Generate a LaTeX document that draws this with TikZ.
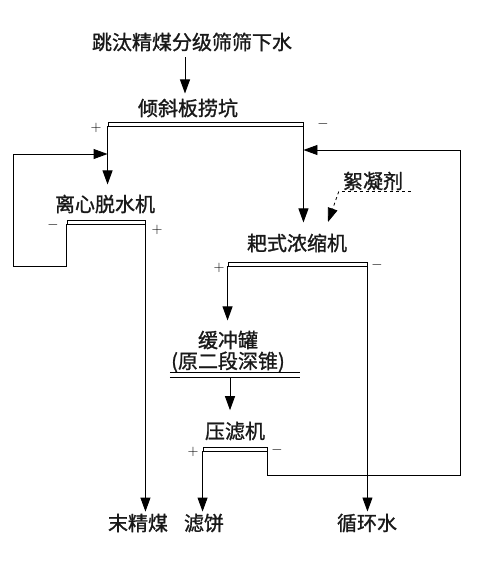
\documentclass[tikz,border=0pt]{standalone}
\usepackage{fontspec}
\newfontfamily\cjk[FakeBold=1.2]{Noto Sans CJK SC}
\usepackage{tikz}
\usetikzlibrary{positioning, arrows.meta, calc}

\begin{document}
\begin{tikzpicture}[
    x=1pt, y=-1pt,
    font=\cjk\fontsize{20}{24}\selectfont,
    >={Triangle[length=14pt, width=10pt]},
    lbl/.style={inner sep=2pt, text=black!90},
    bar/.style={draw, line width=0.9pt, minimum height=4pt, inner sep=0pt, minimum width=#1},
    sgn/.style={font=\normalfont\fontsize{15}{17}\selectfont, inner sep=0pt},
    flow/.style={->, line width=0.9pt}
  ]
    \useasboundingbox (0,0) rectangle (477,562);
    % feed and labels
    \node[lbl] (feed) at (192,42) {跳汰精煤分级筛筛下水};
    \node[lbl] (pitlbl) at (188,108) {倾斜板捞坑};
    \node[lbl] (cenlbl) at (105,204) {离心脱水机};
    \node[lbl] (thklbl) at (297,243) {耙式浓缩机};
    \node[lbl] (tanklbl) at (228,340) {缓冲罐};
    \node[lbl] (tanklbl2) at (228,362) {(原二段深锥)};
    \node[lbl] (presslbl) at (235,431) {压滤机};
    \node[lbl, inner sep=1pt] (flocc) at (373,181) {絮凝剂};
    \node[lbl] (coal) at (138,523) {末精煤};
    \node[lbl] (cake) at (204,523) {滤饼};
    \node[lbl] (water) at (367,523) {循环水};
    % bars
    \node[bar=195pt] (pit) at (205.5,124) {};
    \node[bar=78pt] (cen) at (106,222) {};
    \node[bar=139pt] (thk) at (297.5,264) {};
    \node[bar=64pt] (press) at (235,449) {};
    \node[minimum width=130pt, minimum height=4pt, inner sep=0pt] (tank) at (235,375) {};
    \draw[line width=0.9pt] (tank.north west) -- (tank.north east) (tank.south west) -- (tank.south east);
    % signs
    \node[sgn] (pitp) at (96,128) {$+$};
    \node[sgn] (pitm) at (323,124) {$-$};
    \node[sgn] (cenm) at (53,225) {$-$};
    \node[sgn] (cenp) at (157,230) {$+$};
    \node[sgn] (thkp) at (219,268) {$+$};
    \node[sgn] (thkm) at (377,265) {$-$};
    \node[sgn] (pressp) at (193,452) {$+$};
    \node[sgn] (pressm) at (277,450) {$-$};
    \coordinate (loopL) at (13,266);
    \coordinate (loopT) at (13,154);
    \coordinate (retB) at (460,475);
    \coordinate (retT) at (460,150);
    \coordinate (floccend) at (328,222);
    % flows
    \draw[flow] (feed.south -| pitlbl.north) ++(-3,4) -- ++(0,36);
    \draw[flow] (pit.south west) -- ++(0,58);
    \draw[flow] (cen.south west) |- (loopL) -- (loopT) -- (loopT -| pit.south west);
    \draw[flow] (cen.south east) -- (cen.south east |- coal.north);
    \draw[flow] (pit.south east) -- ++(0,96);
    \draw[flow] (press.south east) |- (retB) -- (retT) -- (retT -| pit.south east);
    \draw[line width=0.8pt, dashed] (flocc.south west) -- ++(70,0);
    \draw[flow, line width=0.8pt, dashed] ($(flocc.south west)+(-3,0)$) -- (floccend);
    \draw[flow] (thk.south west) -- ++(0,54);
    \draw[flow] (thk.south east) -- (thk.south east |- water.north);
    \draw[flow] (tank.south -| presslbl.north) ++(-5,0) -- ++(0,33);
    \draw[flow] (press.south west) -- (press.south west |- cake.north);
  \end{tikzpicture}
\end{document}
